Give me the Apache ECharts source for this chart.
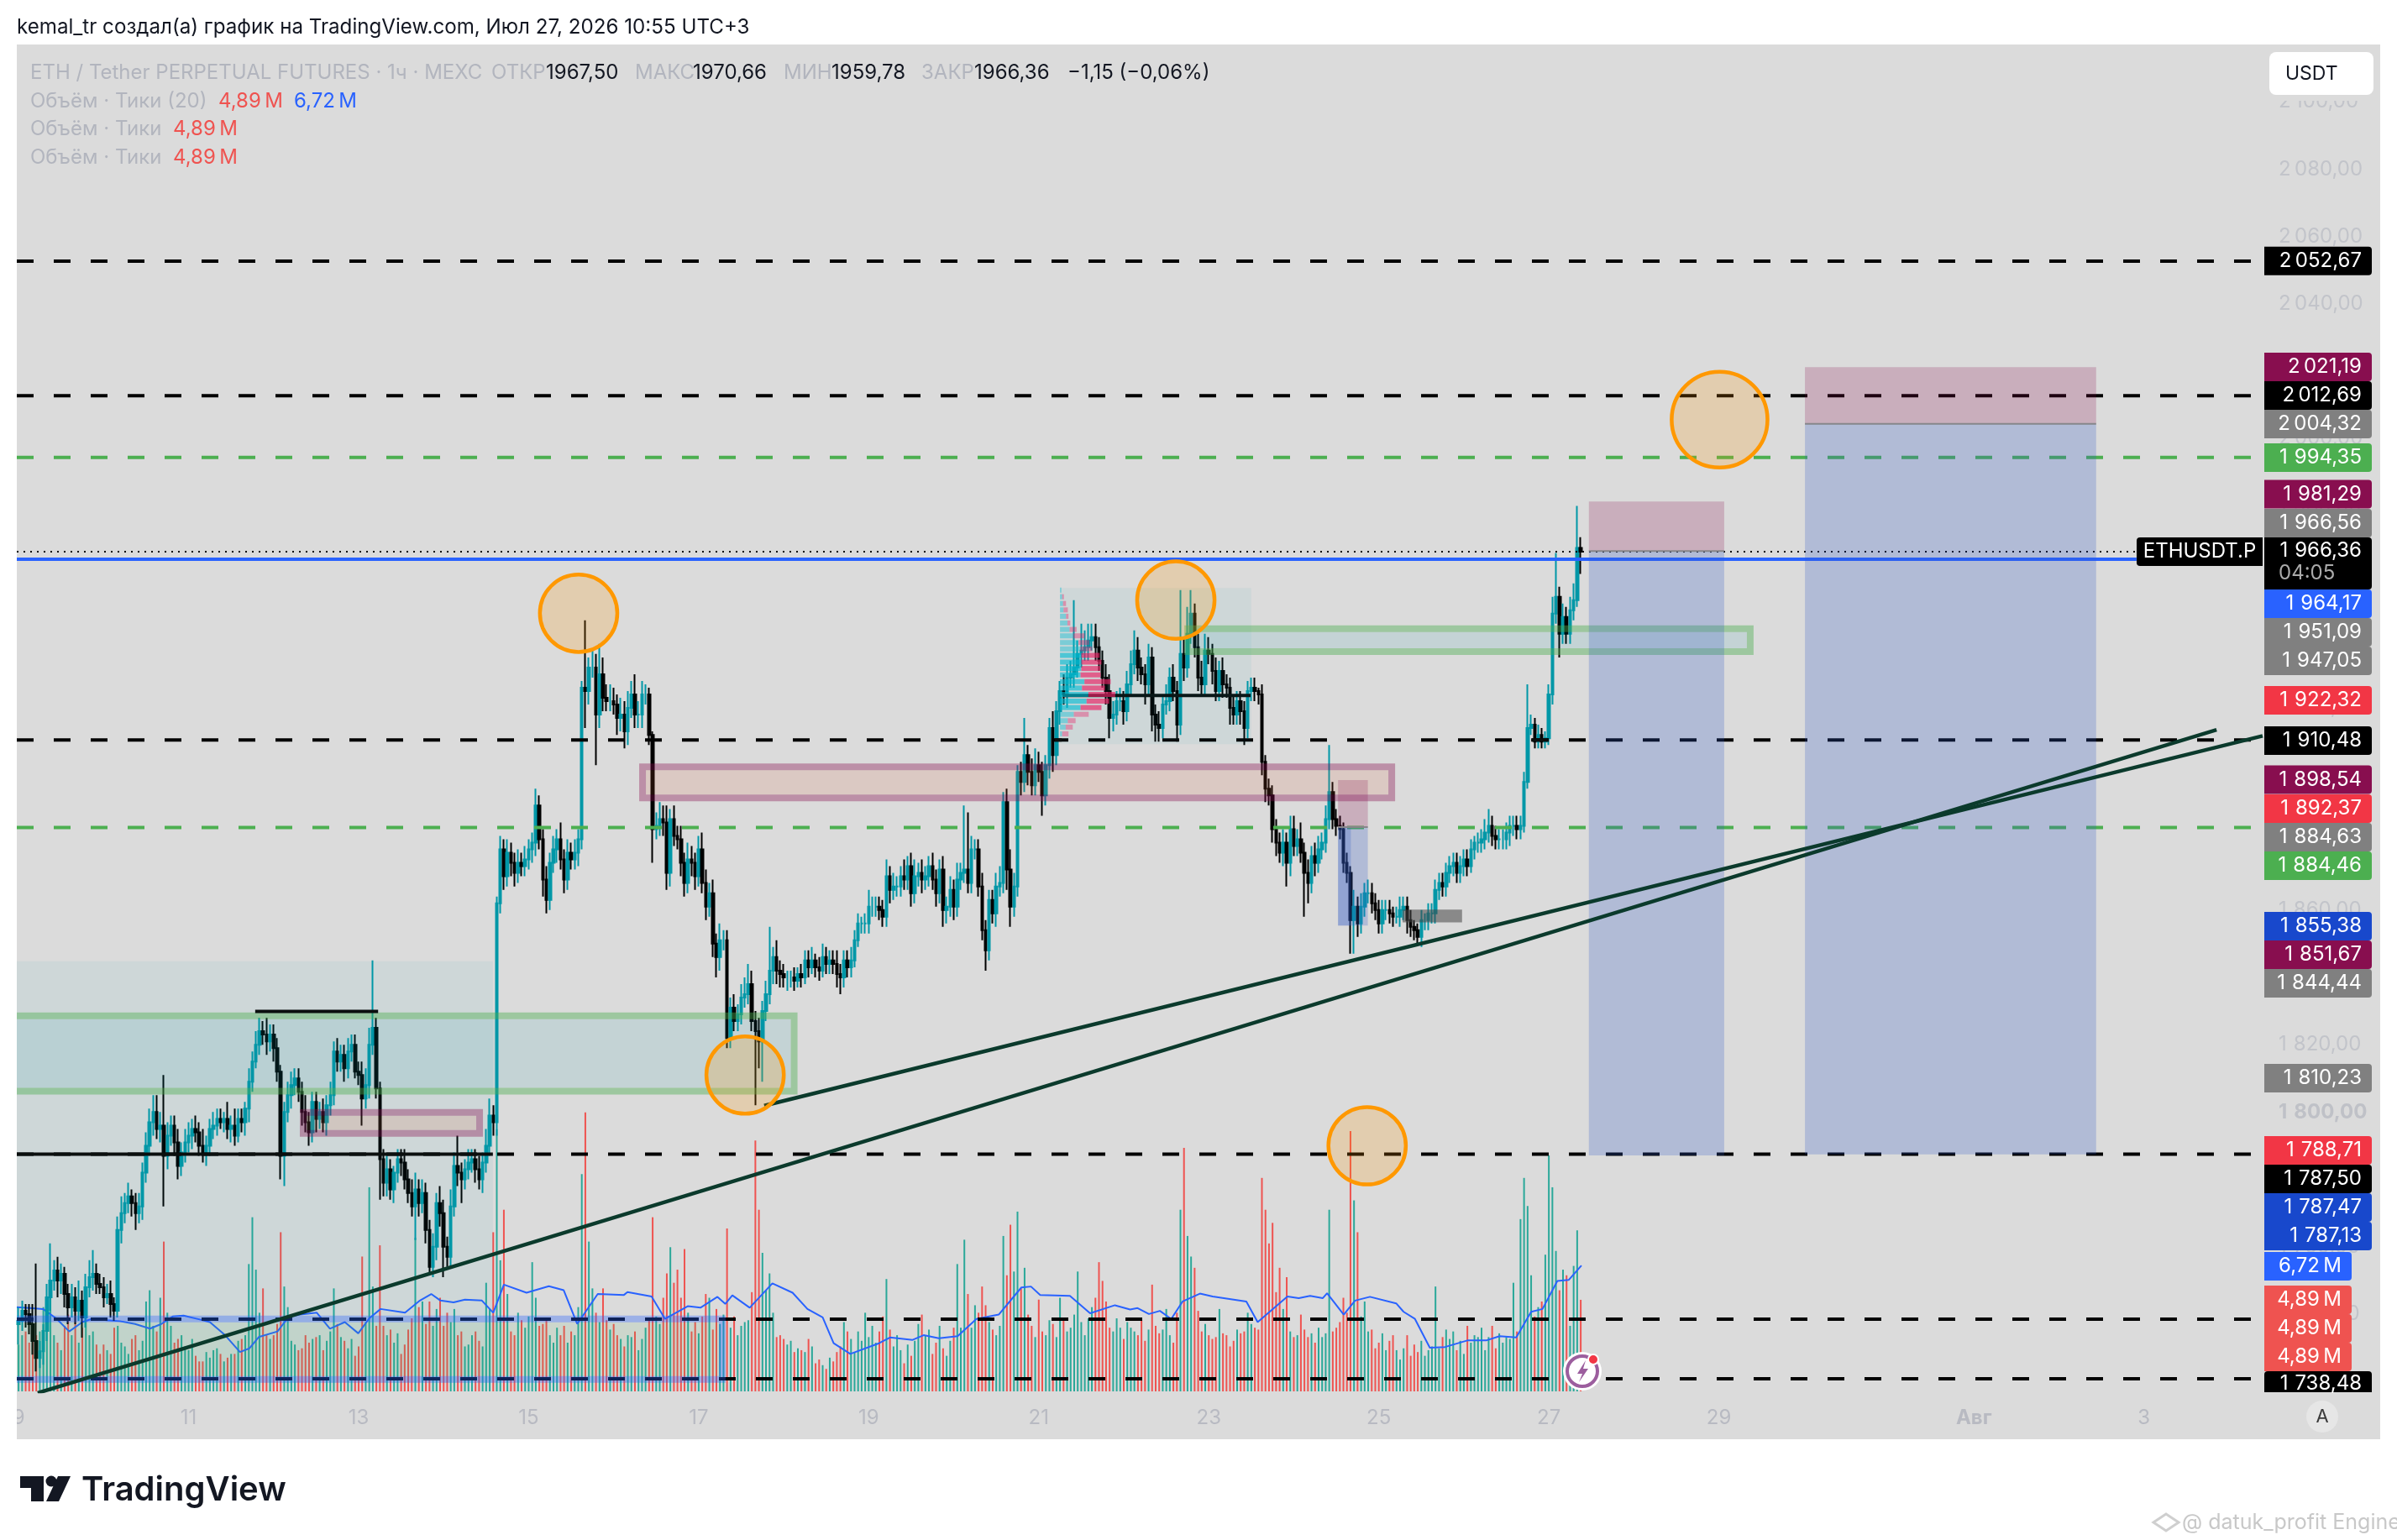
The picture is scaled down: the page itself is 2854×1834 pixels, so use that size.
<!DOCTYPE html>
<html><head><meta charset="utf-8"><style>html,body{margin:0;padding:0;background:#fff}#c{width:2854px;height:1834px}</style>
<script src="https://cdn.jsdelivr.net/npm/echarts@6/dist/echarts.min.js"></script></head>
<body><div id="c"></div>
<script>
// hourly closes, Jul 9 00:00 onwards (one row per day)
const closes=[
1738,1741,1740,1737,1732,1727,1729,1735,1745,1750,1753,1750,1752,1746,1742,1745,1741,1744,1739,1748,1751,1752,1749,1748,
1745,1746,1743,1741,1765,1770,1773,1775,1773,1770,1772,1782,1790,1797,1800,1795,1796,1787,1793,1796,1791,1784,1788,1791,
1793,1795,1794,1790,1788,1790,1795,1796,1798,1797,1798,1795,1796,1793,1798,1797,1801,1809,1815,1820,1824,1823,1821,1823,
1819,1812,1787,1800,1805,1808,1810,1806,1800,1797,1794,1803,1798,1800,1797,1802,1805,1818,1815,1817,1813,1818,1820,1812,
1811,1804,1808,1820,1825,1807,1786,1779,1783,1777,1782,1786,1785,1780,1776,1772,1777,1773,1776,1765,1754,1760,1773,1770,
1760,1757,1772,1784,1782,1780,1783,1785,1786,1783,1780,1785,1790,1799,1797,1862,1878,1870,1877,1874,1871,1874,1873,1875,
1878,1880,1891,1881,1869,1863,1874,1878,1881,1875,1869,1877,1875,1877,1881,1926,1925,1932,1932,1918,1930,1923,1922,1922,
1921,1917,1918,1913,1920,1924,1918,1918,1924,1924,1912,1884,1885,1887,1886,1871,1887,1882,1881,1874,1868,1875,1874,1870,
1878,1868,1861,1865,1850,1846,1851,1851,1822,1831,1827,1829,1834,1835,1838,1827,1824,1821,1830,1835,1842,1846,1842,1841,
1840,1840,1840,1839,1841,1840,1845,1843,1845,1843,1842,1846,1844,1845,1844,1841,1840,1845,1843,1845,1851,1856,1856,1856,
1861,1861,1861,1860,1858,1870,1866,1867,1867,1870,1869,1873,1865,1870,1871,1869,1870,1873,1869,1865,1872,1860,1861,1866,
1861,1869,1871,1872,1868,1878,1878,1867,1854,1848,1863,1859,1867,1868,1892,1872,1861,1867,1901,1898,1906,1901,1897,1903,
1901,1894,1903,1914,1906,1919,1925,1924,1929,1930,1932,1936,1937,1938,1940,1941,1938,1934,1929,1925,1917,1918,1922,1922,
1919,1927,1933,1937,1932,1930,1927,1935,1918,1915,1914,1921,1922,1929,1925,1915,1936,1932,1942,1948,1938,1929,1927,1937,
1936,1931,1925,1931,1927,1926,1920,1918,1922,1919,1914,1925,1926,1925,1924,1904,1896,1894,1884,1880,1877,1880,1874,1884,
1879,1881,1877,1871,1868,1876,1874,1878,1880,1887,1895,1887,1885,1884,1874,1871,1857,1861,1856,1861,1865,1865,1862,1860,
1856,1860,1860,1859,1858,1858,1860,1861,1857,1855,1854,1852,1857,1857,1859,1859,1866,1868,1867,1871,1873,1874,1871,1873,
1875,1873,1878,1880,1880,1881,1883,1885,1882,1881,1881,1881,1883,1885,1885,1884,1885,1898,1914,1915,1910,1912,1910,1911,
1924,1948,1953,1942,1947,1942,1949,1952,1967.5,1966.36];
const wickUp=[
4,3,2,3,6,23,3,2,4,11,3,4,3,2,3,4,3,6,3,4,5,7,3,3,
3,3,4,2,4,5,3,4,2,3,4,3,4,4,5,5,4,15,4,3,3,4,3,4,
4,3,4,3,5,3,3,4,3,3,2,5,3,5,3,3,2,4,3,4,4,3,5,3,
3,3,2,3,4,4,3,3,3,5,3,3,3,3,4,3,4,3,4,3,3,4,3,3,
3,4,5,5,20,3,2,3,4,3,2,3,3,4,3,4,5,3,4,3,3,4,3,5,
4,3,5,4,9,3,3,4,3,3,4,3,5,5,3,2,4,3,4,3,3,4,3,4,
3,3,5,3,3,4,3,4,3,5,3,4,3,4,3,2,20,3,5,4,9,5,4,5,
4,3,5,4,5,4,6,4,4,3,2,1,4,5,4,5,3,4,3,4,3,5,4,3,
4,5,4,3,4,3,5,3,3,3,4,3,4,5,6,4,3,4,3,4,13,3,5,3,
3,2,2,3,2,3,3,3,4,2,3,4,3,3,3,4,3,3,3,4,3,3,2,3,
5,3,3,3,3,5,3,4,3,3,5,3,4,5,3,4,3,3,4,3,3,4,3,4,
3,5,3,19,17,4,3,3,4,3,3,3,4,5,3,4,6,4,2,3,11,3,4,5,
4,3,3,3,5,3,3,5,4,4,20,4,8,5,5,4,4,3,3,4,5,4,3,4,
3,4,4,6,4,3,3,4,3,3,4,3,5,3,4,3,19,5,8,7,3,4,5,5,
4,3,4,3,4,3,3,4,3,3,3,3,3,3,1,3,2,3,3,3,3,4,3,4,
4,3,5,3,4,3,4,4,3,4,14,3,3,3,2,3,2,5,3,4,3,4,3,3,
3,3,3,3,2,3,4,3,3,3,2,2,3,2,3,3,3,3,3,3,3,3,3,3,
3,3,3,2,3,3,4,5,3,3,3,3,3,3,3,3,3,3,13,3,2,3,2,2,
3,5,13,3,4,3,4,5,12.5,3.16];
const wickDown=[
6,3,4,3,4,4,3,4,3,4,3,5,4,4,5,3,4,3,6,3,3,4,3,2,
3,2,4,3,2,4,3,3,4,5,3,4,3,3,4,3,4,15,4,3,4,4,3,3,
3,4,3,3,3,4,3,3,3,2,3,3,4,3,2,3,4,4,3,2,3,3,4,3,
4,3,7,9,3,4,3,3,4,3,4,3,4,3,3,4,3,3,3,3,4,3,3,2,
3,8,3,4,3,3,12,4,4,3,4,3,4,3,3,3,10,4,3,4,2,3,4,4,
9,3,3,3,4,7,3,3,3,4,3,4,3,3,4,4,3,4,3,4,4,3,3,3,
3,4,4,3,5,4,3,3,4,3,4,3,3,3,4,3,11,4,3,15,4,4,3,3,
3,5,4,5,4,3,4,4,4,3,3,10,3,3,4,5,4,3,3,4,4,3,4,4,
3,3,4,3,4,6,4,3,3,3,3,3,3,3,3,3,22,8,12,3,3,4,4,4,
3,4,3,3,2,3,2,3,2,3,3,2,3,3,3,4,5,3,3,3,2,2,3,3,
3,3,3,3,3,3,4,3,3,3,3,3,4,3,3,4,3,3,3,4,3,5,4,3,
4,3,3,3,3,3,3,3,3,6,3,3,4,3,3,6,6,3,3,4,3,4,3,3,
3,6,3,4,5,3,4,3,4,3,4,3,4,3,4,3,4,3,3,4,6,4,3,3,
4,3,3,3,4,3,6,3,5,5,4,3,3,3,3,5,3,4,3,3,3,4,3,3,
3,4,3,3,4,3,5,3,3,4,5,3,3,3,3,4,4,3,4,4,3,4,7,4,
3,3,3,13,6,3,4,3,3,3,3,3,3,3,3,3,10,10,4,3,3,3,3,3,
3,3,3,3,3,2,3,3,4,3,3,2,3,3,3,3,3,3,3,3,3,3,3,3,
3,3,2,3,3,3,3,3,3,3,3,3,3,4,3,3,3,2,2,2,2,2,2,2,
2,3,3,7,3,3,3,3,2,6.58];
const volumes=[
2.5,3.0,3.2,2.6,3.5,3.0,3.2,4.5,3.3,5.0,3.0,2.6,2.2,3.5,4.1,3.0,4.4,2.6,3.4,5.5,3.0,3.2,2.5,2.0,
2.5,2.2,2.0,3.4,3.5,2.6,2.4,2.0,2.8,3.0,2.2,2.7,4.8,5.4,3.5,3.2,5.0,8.0,4.2,3.5,2.6,2.8,3.0,2.4,
2.2,2.8,1.9,1.6,1.6,2.1,1.8,2.2,2.3,2.0,1.6,1.8,2.0,2.0,2.7,2.8,3.0,6.8,9.3,6.5,4.2,5.5,3.0,2.8,
3.0,3.6,8.5,5.6,4.5,2.7,2.5,2.2,2.3,3.0,2.6,2.8,2.9,3.0,2.2,2.7,3.2,5.5,3.6,2.9,2.7,2.3,2.8,1.9,
2.4,7.2,3.7,10.9,5.6,3.5,7.8,3.5,3.0,3.3,2.6,3.1,2.0,2.5,3.3,3.9,8.2,4.5,4.8,3.6,4.8,3.5,4.4,5.0,
3.5,4.2,3.7,4.4,3.0,3.2,2.4,2.5,3.0,3.2,2.7,2.4,5.8,4.4,8.5,14.0,7.0,9.7,5.2,3.2,3.0,4.2,3.8,3.4,
4.0,6.9,5.0,3.5,3.6,3.8,3.0,2.6,3.4,3.0,3.5,2.6,3.2,3.0,4.5,11.6,14.9,8.0,5.5,4.2,3.7,5.5,3.8,3.3,
3.6,3.0,2.8,2.4,3.0,2.9,3.2,2.2,2.8,3.4,3.9,9.3,4.0,3.6,5.0,6.3,7.7,5.8,6.5,5.0,7.6,4.2,3.2,3.7,
3.1,4.0,5.2,5.0,3.3,4.4,3.6,4.1,8.7,3.4,4.0,3.0,3.5,3.7,3.8,5.3,13.4,9.7,7.4,5.4,6.3,4.2,2.9,3.0,
2.8,2.5,2.7,2.1,2.3,2.2,2.1,2.8,2.4,1.5,1.7,1.4,1.2,1.8,1.6,2.1,2.4,3.7,3.2,2.8,2.1,3.2,2.7,4.2,
2.9,3.5,2.6,3.2,4.0,6.0,3.3,2.4,3.0,2.2,1.5,2.5,1.9,2.7,3.6,4.1,3.0,3.3,2.0,2.6,3.5,2.3,1.9,2.7,
3.4,6.8,3.4,8.1,5.2,3.4,4.6,4.2,5.6,4.6,3.7,3.3,3.0,3.5,8.3,6.2,8.9,6.4,9.6,5.5,6.6,4.1,3.5,2.9,
4.9,3.2,3.0,3.8,3.6,2.9,5.0,3.9,3.2,3.4,4.1,6.4,3.7,3.0,3.9,4.5,5.0,6.9,5.9,4.8,3.4,3.2,3.9,3.4,
2.8,3.7,3.4,3.2,3.0,3.8,2.7,3.3,5.7,3.5,3.1,3.3,4.4,3.0,2.6,4.2,9.7,13.0,8.3,7.2,6.6,4.3,3.2,3.6,
3.0,2.8,2.9,4.4,3.1,3.0,2.4,2.7,3.3,3.1,3.2,4.2,3.6,3.4,3.3,11.4,9.7,7.9,9.0,5.3,6.6,4.4,6.1,3.2,
2.9,3.0,4.1,3.3,2.9,3.1,2.6,3.4,2.9,3.1,9.7,3.2,3.4,3.7,5.0,4.2,13.9,10.2,8.5,4.0,4.8,3.2,3.3,2.3,
2.6,3.1,2.2,2.7,3.0,2.2,1.7,2.3,3.0,1.9,2.5,2.1,2.7,1.9,2.2,2.4,5.6,2.3,2.9,3.3,2.8,3.2,2.2,2.7,
2.0,3.5,2.6,3.0,2.9,3.4,2.2,2.9,3.5,2.3,3.1,2.6,2.9,2.8,5.8,3.2,9.2,11.4,9.9,6.2,4.0,4.5,4.8,7.3,
12.6,10.9,7.5,5.4,6.5,6.2,3.5,6.7,8.6,4.89];
// 20-period volume average, read at irregular hours
const maHours=[0,3.7,7.4,11.1,14.8,18.5,21.7,25.4,29.1,33.4,37.6,40.8,44,47.1,51.4,54.5,58.8,63,65.7,68.3,73.6,76.8,80,84.7,88.4,92.6,96.4,99.5,102.7,109.6,113.8,117,119.6,123.3,126.5,131.3,134.5,137.5,143.9,150.2,154.4,158.2,164,171.4,172.4,179.2,183,189.4,193,197.8,200,202,206.9,213.3,219,223.2,227.5,230.6,235.3,243.4,246.5,252.9,256,260.3,265.6,270.9,277.2,283.6,286.3,288.9,297.3,303,310,314.3,316.4,319.6,322.7,325.9,329.1,334,337.6,347.1,350.3,358.7,361.9,365.1,368.7,369.9,374.6,377.8,382,389.4,391.5,394.7,398.9,403.2,409.5,414.8,418.6,423.3,427.5,430.7,434.9,438.1,441.7];
const maValues=[4.5,4.45,4.4,3.9,3.2,3.7,3.9,3.8,3.75,3.6,3.35,3.6,4.0,4.05,3.85,3.7,3.0,2.1,2.3,2.9,3.2,4.0,4.1,4.2,3.35,3.7,3.1,3.9,4.4,4.2,4.85,5.2,4.85,4.75,4.9,4.85,4.2,5.7,5.27,5.62,5.4,3.6,5.2,5.15,5.3,5.07,3.87,4.55,4.47,5.05,4.67,5.13,4.47,5.77,5.27,4.4,3.95,2.57,2.0,2.57,2.88,2.75,3.0,2.84,2.95,3.87,4.1,5.55,5.6,5.15,5.1,4.17,4.6,4.37,4.45,4.13,4.3,3.87,4.8,5.22,5.07,4.8,3.7,5.07,4.98,5.1,4.98,5.24,4.1,4.85,5.05,4.7,4.25,3.87,2.33,2.37,2.72,2.72,2.95,2.88,4.25,4.4,5.9,5.95,6.72];
// time axis
const tickHours=[0,48,96,144,192,240,288,336,384,432,480,552,600];
const tickLabels=['9','11','13','15','17','19','21','23','25','27','29','Авг','3'];
const axisHours=634;
// price axis
const priceTicks=[1720,1740,1760,1780,1800,1820,1840,1860,1880,1900,1920,1940,1960,1980,2000,2020,2040,2060,2080,2100];
// horizontal levels
const blackLevels=[2052.67,2012.69,1910.48,1787.5,1738.48,1720.8];
const greenLevels=[1994.35,1884.46];
const lastPrice=1966.36, alertPrice=1964.17;
// drawn segments [h0,p0,h1,p1]
const underSegments=[[295.2,1923.7,348.3,1923.7]];
const solidSegments=[[0,1787.5,134.4,1787.5],[67.3,1829.9,102,1829.9],[427.5,1910.48,432.5,1910.48],[293,1910.48,295,1910.48]];
const trendSegments=[[211,1801.9,634,1911.7],[5.9,1716.6,621,1913.5]];
const positionMidSegments=[[443.8,1966.56,482,1966.56],[504.8,2004.32,587,2004.32],[373,1884.63,381.4,1884.63]];
// zones [h0,h1,priceTop,priceBottom]
const zoneBg=[[0,134.4,1844.8,1719.6],[294.5,348.5,1955.6,1909.2]];
const zoneGreen=[[-5,220.4,1829.6,1805.2],[329.6,490.3,1944.5,1935.7]];
const zonePink=[[79.9,131.6,1800.9,1792.7],[175.7,389.1,1903.5,1892.3]];
const zoneBlue=[[-5,200.1,1739.6,1719.6]];
const zoneGrey=[[391.2,408,1860.1,1856.3]];
const positionStop=[[443.8,482,1981.29,1966.56],[504.8,587,2021.19,2004.32],[373,381.4,1898.54,1884.63]];
const positionTarget=[[443.8,482,1966.56,1787.13],[504.8,587,2004.32,1787.47],[373,381.4,1884.63,1855.38],[373,376.6,1884.63,1855.38]];
// orange circles [h,price,radiusHours]
const circles=[[158.6,1948.1,11.4],[205.6,1811,11.4],[327.2,1952,11.4],[381.2,1790,11.4],[480.7,2005.6,14]];
// volume profile rows
const vpPrices=[1955,1953,1951,1949.1,1947.2,1945.2,1943.3,1941.4,1939.4,1937.5,1935.6,1933.6,1931.7,1929.8,1927.8,1925.9,1924,1922,1920.1,1918.1,1916.2,1914.3,1912.3];
const vpUp=[.4,.6,.85,1,1.7,2.1,2.7,3.7,5.2,5.7,6,6,6,5.8,6.9,6.2,8,7.5,5.8,3.9,2.2,1.6,.6];
const vpTotal=[.4,1.1,1.7,2.2,2.4,2.9,4.7,7,8.3,9.1,11.2,11.7,11.4,11.5,14.3,12.7,15.6,13.9,11.7,8.1,4.4,3.6,2.4];
const vpValueAreaFirst=10, vpValueAreaLast=18;
const vpStart=294.5;
// price scale badges
const badgeTexts=['2 052,67','2 021,19','2 012,69','2 004,32','1 994,35','1 981,29','1 966,56','1 964,17','1 951,09','1 947,05','1 922,32','1 910,48','1 898,54','1 892,37','1 884,63','1 884,46','1 855,38','1 851,67','1 844,44','1 810,23','1 788,71','1 787,50','1 787,47','1 787,13'];
const badgeColors=['#000','#880e4f','#000','#808080','#4caf50','#880e4f','#808080','#2962ff','#808080','#808080','#f23645','#000','#880e4f','#f23645','#808080','#4caf50','#1848cc','#880e4f','#808080','#808080','#f23645','#000','#1848cc','#1848cc'];
const badgeCentres=[310.7,437,471,505,545,588.5,623,719,753,787,834,882,928.5,963,997,1031,1103,1137,1171,1284,1370,1404,1438,1472];
const volumeBadgeTexts=['6,72 M','4,89 M','4,89 M','4,89 M'];
const volumeBadgeColors=['#2962ff','#ef5350','#ef5350','#ef5350'];
const volumeBadgeCentres=[1508,1548,1582,1616];

const categories=new Array(axisHours).fill('');
tickHours.forEach((h,i)=>categories[h]=tickLabels[i]);
const candleData=closes.map((c,i)=>{const o=i?closes[i-1]:1737;return [o,c,Math.min(o,c)-wickDown[i],Math.max(o,c)+wickUp[i]];});
const volumeData=volumes.map((v,i)=>({value:v,itemStyle:{color:candleData[i][1]>=candleData[i][0]?'#2aa899':'#ef5350'}}));
const spaced=t=>t.replace(' ',t[0]==='1'?'\u2004':'\u202f');

function zoneSeries(rows,fill,stroke,sw,z){
  return {type:'custom',coordinateSystem:'cartesian2d',xAxisIndex:1,yAxisIndex:0,clip:true,silent:true,z,
    encode:{x:[0,1],y:[2,3]},data:rows,
    renderItem:(p,api)=>{
      const a=api.coord([api.value(0),api.value(2)]),b=api.coord([api.value(1),api.value(3)]);
      const w=b[0]-a[0],h=b[1]-a[1],ch=[
        {type:'rect',shape:{x:a[0]+sw,y:a[1]+sw,width:w-2*sw,height:h-2*sw},style:{fill}}];
      if(sw) ch.push({type:'rect',shape:{x:a[0]+sw/2,y:a[1]+sw/2,width:w-sw,height:h-sw},style:{fill:'none',stroke,lineWidth:sw}});
      return {type:'group',children:ch};
    }};
}
function segSeries(seg,color,width,dash,z){
  return {type:'line',xAxisIndex:1,yAxisIndex:0,showSymbol:false,silent:true,z,animation:false,clip:true,
    data:[[seg[0],seg[1]],[seg[2],seg[3]]],lineStyle:{color,width,type:dash||'solid',cap:'butt'}};
}
const series=[
 {type:'bar',xAxisIndex:0,yAxisIndex:1,data:volumeData,barWidth:2,z:1,silent:true},
 {type:'line',xAxisIndex:1,yAxisIndex:1,data:maHours.map((h,i)=>[h,maValues[i]]),showSymbol:false,z:2,silent:true,
  lineStyle:{color:'#2962ff',width:2}},
 {type:'candlestick',xAxisIndex:0,yAxisIndex:0,data:candleData,barWidth:3,z:2,silent:true,
  itemStyle:{color:'#0097a7',color0:'#000',borderColor:'#0097a7',borderColor0:'#000',borderWidth:2}},
];
blackLevels.forEach(p=>series.push(segSeries([0,p,630.7,p],'#000',4,[20,24],3)));
greenLevels.forEach(p=>series.push(segSeries([0,p,630.7,p],'#4caf50',4,[20,24],3)));
series.push(segSeries([0,alertPrice,598.4,alertPrice],'#2962ff',4,null,3));
series.push(segSeries([0,lastPrice,598.4,lastPrice],'#000',2,[2,6],3));
underSegments.forEach(s=>series.push(segSeries(s,'#0b0f0e',4,null,3)));
series.push(zoneSeries(zoneBg,'rgba(0,151,167,0.06)',null,0,4));
series.push(zoneSeries(zoneGreen,'rgba(0,151,167,0.10)','rgba(76,175,80,0.43)',8,4));
series.push(zoneSeries(zonePink,'rgba(220,100,60,0.15)','rgba(136,14,79,0.37)',8,4));
series.push(zoneSeries(zoneBlue,'rgba(76,175,80,0.10)','rgba(41,98,255,0.35)',8,4));
series.push(zoneSeries(zoneGrey,'rgba(70,70,70,0.55)',null,0,4));
series.push(zoneSeries(positionStop,'rgba(136,14,79,0.22)',null,0,4));
series.push(zoneSeries(positionTarget,'rgba(50,90,200,0.25)',null,0,4));
series.push({type:'custom',coordinateSystem:'cartesian2d',xAxisIndex:1,yAxisIndex:0,silent:true,z:4,clip:true,
  encode:{x:1,y:0},data:vpPrices.map((p,i)=>[p,vpUp[i],vpTotal[i]]),
  renderItem:(par,api)=>{
    const p=api.value(0),a=api.coord([vpStart,p]),b=api.coord([vpStart+api.value(1),p]),c=api.coord([vpStart+api.value(2),p]);
    const inVA=par.dataIndex>=vpValueAreaFirst&&par.dataIndex<=vpValueAreaLast;
    return {type:'group',children:[
      {type:'rect',shape:{x:a[0],y:a[1]-3,width:b[0]-a[0],height:6},style:{fill:inVA?'rgba(0,188,212,0.62)':'rgba(0,188,212,0.4)'}},
      {type:'rect',shape:{x:b[0],y:a[1]-3,width:c[0]-b[0],height:6},style:{fill:inVA?'rgba(233,30,99,0.65)':'rgba(233,30,99,0.38)'}}]};
  }});
solidSegments.forEach(s=>series.push(segSeries(s,'#0b0f0e',4,null,5)));
positionMidSegments.forEach(s=>series.push(segSeries(s,'#86868a',2,null,5)));
trendSegments.forEach(s=>series.push(segSeries(s,'#0b3a2c',4.5,null,5)));
series.push({type:'custom',coordinateSystem:'cartesian2d',xAxisIndex:1,yAxisIndex:0,silent:true,z:6,
  encode:{x:0,y:1},data:circles,
  renderItem:(p,api)=>{const c=api.coord([api.value(0),api.value(1)]),r=api.size([api.value(2),0])[0];
    return {type:'circle',shape:{cx:c[0],cy:c[1],r:r-2},style:{fill:'rgba(255,152,0,0.2)',stroke:'#ff9800',lineWidth:4.5}};}});

const UI='Inter, "Liberation Sans", sans-serif';
const gfx=[
 {type:'rect',z:-10,shape:{x:20,y:53,width:2814,height:1661},style:{fill:'#dbdbdb'}},
];
function txt(x,y,text,fill,size,opts){gfx.push({type:'text',z:60,x,y,style:{text,fill,font:`${(opts&&opts.weight)||400} ${size||24}px ${UI}`,textAlign:(opts&&opts.align)||'left',textVerticalAlign:'middle'}});}
gfx.push({type:'rect',z:55,shape:{x:0,y:1660,width:20,height:60},style:{fill:'#fff'}});
// header & legend
txt(20,33,'kemal_tr создал(а) график на TradingView.com, Июл 27, 2026 10:55 UTC+3','#131722',24.15);
const G='#b2b5be',K='#131722',R='#ef5350',B='#2962ff';
txt(36,87,'ETH / Tether PERPETUAL FUTURES · 1ч · MEXC',G,24);
[[585,'ОТКР',G],[650,'1967,50',K],[756,'МАКС',G],[825,'1970,66',K],[933,'МИН',G],[990,'1959,78',K],[1097,'ЗАКР',G],[1160,'1966,36',K],[1271,'−1,15 (−0,06%)',K]].forEach(a=>txt(a[0],87,a[1],a[2],24));
txt(36,121,'Объём · Тики (20)',G,24);txt(260,121,'4,89\u202fM',R,24);txt(350,121,'6,72\u202fM',B,24);
txt(36,154,'Объём · Тики',G,24);txt(206,154,'4,89\u202fM',R,24);
txt(36,188,'Объём · Тики',G,24);txt(206,188,'4,89\u202fM',R,24);
// USDT box (fades the axis tick beneath it)
gfx.push({type:'rect',z:49,shape:{x:2696,y:100,width:138,height:20},style:{fill:'#dbdbdb'}});
gfx.push({type:'rect',z:50,shape:{x:2702,y:62,width:124,height:51,r:8},style:{fill:'#fff'}});
txt(2721,88,'USDT','#131722',23);
// badges
function badge(y,text,color,right,textRight){
  gfx.push({type:'rect',z:52,shape:{x:2696,y:y-17,width:right-2696,height:34,r:[0,4,4,0]},style:{fill:color}});
  txt(textRight,y,text,'#fff',24,{align:'right'});
}
badgeTexts.forEach((t,i)=>badge(badgeCentres[i],spaced(t),badgeColors[i],2824,2812));
volumeBadgeTexts.forEach((t,i)=>badge(volumeBadgeCentres[i],t.replace(' ','\u202f'),volumeBadgeColors[i],2800,2788));
gfx.push({type:'rect',z:52,shape:{x:2696,y:640,width:128,height:62,r:[0,4,4,0]},style:{fill:'#000'}});
txt(2812,656,spaced('1 966,36'),'#fff',24,{align:'right'});
txt(2713,683,'04:05','#aaa',24);
gfx.push({type:'rect',z:52,shape:{x:2544,y:640,width:150,height:34,r:[4,0,0,4]},style:{fill:'#000'}});
txt(2619,657,'ETHUSDT.P','#fff',24,{align:'center'});
gfx.push({type:'rect',z:52,shape:{x:2696,y:1633,width:128,height:25,r:[4,4,0,0]},style:{fill:'#000'}});
txt(2812,1648,spaced('1 738,48'),'#fff',24,{align:'right'});
// auto button
gfx.push({type:'circle',z:50,shape:{cx:2765,cy:1687,r:19},style:{fill:'#e6e6e6'}});
txt(2765,1687,'A','#3a3a3a',22,{align:'center'});
// lightning badge
gfx.push({type:'circle',z:50,shape:{cx:1884,cy:1633,r:23},style:{fill:'#fff'}});
gfx.push({type:'circle',z:51,shape:{cx:1884,cy:1633,r:18},style:{fill:'#fff',stroke:'#9c5e9e',lineWidth:4}});
gfx.push({type:'polygon',z:52,shape:{points:[[1888,1620],[1878,1636],[1884,1636],[1880,1646],[1891,1630],[1885,1630]]},style:{fill:'#9c5e9e'}});
gfx.push({type:'circle',z:53,shape:{cx:1897,cy:1619,r:6},style:{fill:'#f23645',stroke:'#fff',lineWidth:2}});
// logo
gfx.push({type:'polygon',z:50,shape:{points:[[24,1758],[52,1758],[52,1788],[37,1788],[37,1772],[24,1772]]},style:{fill:'#131722'}});
gfx.push({type:'circle',z:50,shape:{cx:61,cy:1764,r:6.5},style:{fill:'#131722'}});
gfx.push({type:'polygon',z:50,shape:{points:[[69,1758],[84,1758],[70,1788],[55,1788]]},style:{fill:'#131722'}});
txt(97,1775,'TradingView','#131722',40,{weight:600});
// watermark
gfx.push({type:'polygon',z:50,shape:{points:[[2564,1813],[2579,1803],[2594,1813],[2579,1823]]},style:{fill:'none',stroke:'#cfcfcf',lineWidth:3}});
txt(2598,1813,'@ datuk_profit Engine','#c8c8c8',25);

const chart=echarts.init(document.getElementById('c'),null,{renderer:'canvas',width:2854,height:1834,devicePixelRatio:1});
chart.setOption({
 animation:false,backgroundColor:'#fff',
 grid:{left:20,right:160,top:53,bottom:177,containLabel:false},
 xAxis:[
  {type:'category',data:categories,boundaryGap:true,axisLine:{show:false},axisTick:{show:false},splitLine:{show:false},
   axisLabel:{interval:(i,v)=>v!=='',margin:20,fontFamily:UI,fontSize:24,color:'#b8bac2',hideOverlap:false,
     formatter:v=>v==='Авг'?'{b|Авг}':v,rich:{b:{fontFamily:UI,fontSize:24,fontWeight:700,color:'#b8bac2'}}}},
  {type:'value',min:0,max:axisHours,show:false,splitLine:{show:false}}
 ],
 yAxis:[
  {type:'value',position:'right',min:1717.07,max:2116.97,axisLine:{show:false},axisTick:{show:false},splitLine:{show:false},
   axisLabel:{customValues:priceTicks,margin:19,fontFamily:UI,fontSize:24,color:'#c2c4ca',align:'left',
     formatter:v=>{const s=String(v),t=s[0]+(s[0]==='1'?'\u2004':'\u202f')+s.slice(1)+',00';return v===1800?'{b|'+t+'}':t;},
     rich:{b:{fontFamily:UI,fontSize:24,fontWeight:700,color:'#bfc1c7'}}}},
  {type:'value',min:0,max:71.93,show:false,splitLine:{show:false}}
 ],
 series,
 graphic:{elements:gfx},
 tooltip:{show:false},legend:{show:false}
});
</script></body></html>
